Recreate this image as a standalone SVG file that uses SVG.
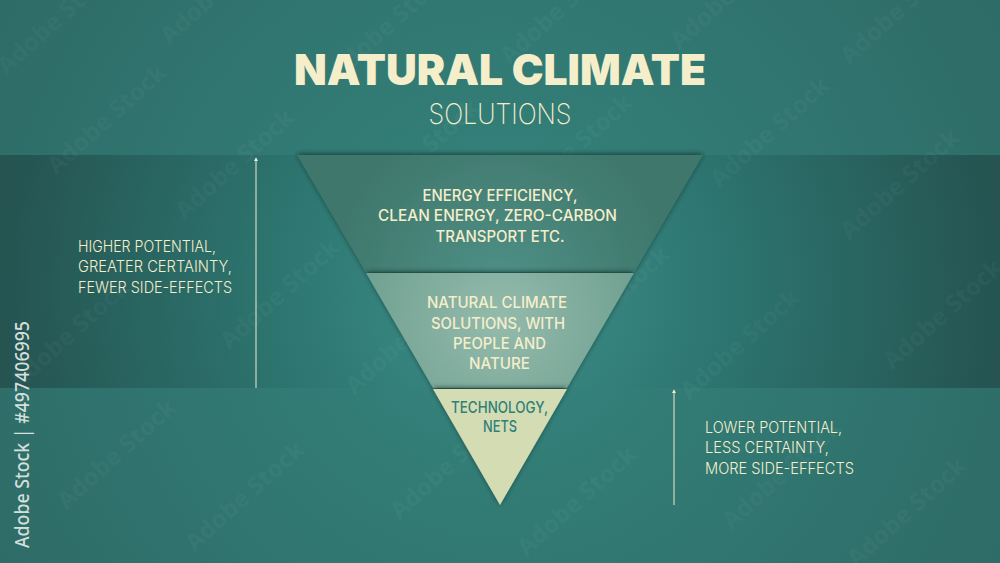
<svg xmlns="http://www.w3.org/2000/svg" width="1000" height="563" viewBox="0 0 1000 563">
<style>
text{font-family:"Inter","Liberation Sans",sans-serif;fill:#f5eecb;text-anchor:middle}
.b{font-size:15.5px;font-weight:500}
.s{font-size:15.5px;font-weight:300;text-anchor:start}
.w{font-family:"Open Sans","Liberation Sans",sans-serif;font-size:24px;font-weight:700;fill:#fff;fill-opacity:.055}
.a{stroke:#f0e9c8;stroke-width:1;fill:none;marker-end:url(#h)}
</style>
<defs>
<radialGradient id="bg" gradientUnits="userSpaceOnUse" cx="500" cy="290" r="560">
<stop offset="0" stop-color="#3a8c84"/><stop offset=".3" stop-color="#337d77"/><stop offset="1" stop-color="#2e6c67"/>
</radialGradient>
<radialGradient id="band" gradientUnits="userSpaceOnUse" cx="500" cy="290" r="500">
<stop offset="0" stop-color="#3f9089"/><stop offset=".45" stop-color="#2d7570"/><stop offset="1" stop-color="#255451"/>
</radialGradient>
<radialGradient id="g1" gradientUnits="userSpaceOnUse" cx="500" cy="285" r="170">
<stop offset="0" stop-color="#4f9086"/><stop offset="1" stop-color="#3f776c"/>
</radialGradient>
<radialGradient id="g2" gradientUnits="userSpaceOnUse" cx="500" cy="320" r="150">
<stop offset="0" stop-color="#94bbac"/><stop offset="1" stop-color="#6e9f8f"/>
</radialGradient>
<filter id="sh" x="-10%" y="-10%" width="120%" height="120%"><feDropShadow dx="0" dy="-1" stdDeviation="2.500" flood-color="#0e2a28" flood-opacity=".8"/></filter>
<marker id="h" markerWidth="5" markerHeight="5" refX="3" refY="2.500" orient="auto"><path d="M0 .5L3.500 2.500L0 4.500Z" fill="#f0e9c8"/></marker>
</defs>
<rect id="background" width="1000" height="563" fill="url(#bg)"/>
<rect id="upper-band" y="155" width="1000" height="233" fill="url(#band)"/>
<g id="watermarks">
<text class="w" textLength="150" transform="translate(62,25) rotate(-42)">Adobe Stock</text>
<text class="w" textLength="150" transform="translate(225,-5) rotate(-42)">Adobe Stock</text>
<text class="w" textLength="150" transform="translate(395,30) rotate(-42)">Adobe Stock</text>
<text class="w" textLength="150" transform="translate(565,15) rotate(-42)">Adobe Stock</text>
<text class="w" textLength="150" transform="translate(735,0) rotate(-42)">Adobe Stock</text>
<text class="w" textLength="150" transform="translate(905,15) rotate(-42)">Adobe Stock</text>
<text class="w" textLength="150" transform="translate(112,125) rotate(-42)">Adobe Stock</text>
<text class="w" textLength="150" transform="translate(240,170) rotate(-42)">Adobe Stock</text>
<text class="w" textLength="150" transform="translate(425,160) rotate(-42)">Adobe Stock</text>
<text class="w" textLength="150" transform="translate(578,155) rotate(-42)">Adobe Stock</text>
<text class="w" textLength="150" transform="translate(775,138) rotate(-42)">Adobe Stock</text>
<text class="w" textLength="150" transform="translate(905,190) rotate(-42)">Adobe Stock</text>
<text class="w" textLength="150" transform="translate(75,340) rotate(-42)">Adobe Stock</text>
<text class="w" textLength="150" transform="translate(285,300) rotate(-42)">Adobe Stock</text>
<text class="w" textLength="150" transform="translate(410,345) rotate(-42)">Adobe Stock</text>
<text class="w" textLength="150" transform="translate(615,307) rotate(-42)">Adobe Stock</text>
<text class="w" textLength="150" transform="translate(745,350) rotate(-42)">Adobe Stock</text>
<text class="w" textLength="150" transform="translate(948,320) rotate(-42)">Adobe Stock</text>
<text class="w" textLength="150" transform="translate(122,460) rotate(-42)">Adobe Stock</text>
<text class="w" textLength="150" transform="translate(250,502) rotate(-42)">Adobe Stock</text>
<text class="w" textLength="150" transform="translate(455,470) rotate(-42)">Adobe Stock</text>
<text class="w" textLength="150" transform="translate(582,507) rotate(-42)">Adobe Stock</text>
<text class="w" textLength="150" transform="translate(787,480) rotate(-42)">Adobe Stock</text>
<text class="w" textLength="150" transform="translate(912,518) rotate(-42)">Adobe Stock</text>
</g>
<g id="title">
<text x="500" y="85" font-size="43" font-weight="900" textLength="412" lengthAdjust="spacingAndGlyphs">NATURAL CLIMATE</text>
<text x="500" y="124" font-size="28" font-weight="200" textLength="143" lengthAdjust="spacingAndGlyphs">SOLUTIONS</text>
</g>
<g id="connectors">
<path class="a" d="M256 388V158"/>
<path class="a" d="M674 505V390"/>
</g>
<g id="tier-top">
<path d="M297 155H703L634.500 272H365.500Z" fill="url(#g1)" filter="url(#sh)"/>
<text class="b" x="500" y="201" textLength="155" lengthAdjust="spacingAndGlyphs">ENERGY EFFICIENCY,</text>
<text class="b" x="497.500" y="221" textLength="239" lengthAdjust="spacingAndGlyphs">CLEAN ENERGY, ZERO-CARBON</text>
<text class="b" x="500" y="242" textLength="129" lengthAdjust="spacingAndGlyphs">TRANSPORT ETC.</text>
</g>
<g id="tier-middle">
<path d="M366 273H634L567 388H433Z" fill="url(#g2)" filter="url(#sh)"/>
<text class="b" x="497" y="308" textLength="140" lengthAdjust="spacingAndGlyphs">NATURAL CLIMATE</text>
<text class="b" x="498" y="329" textLength="134" lengthAdjust="spacingAndGlyphs">SOLUTIONS, WITH</text>
<text class="b" x="499.500" y="349" textLength="93" lengthAdjust="spacingAndGlyphs">PEOPLE AND</text>
<text class="b" x="499.500" y="369" textLength="61" lengthAdjust="spacingAndGlyphs">NATURE</text>
</g>
<g id="tier-bottom">
<path d="M433 389H567L500 505Z" fill="#d4dcb4" filter="url(#sh)"/>
<text class="b" x="499.500" y="413" textLength="97" lengthAdjust="spacingAndGlyphs" style="fill:#2f7f78">TECHNOLOGY,</text>
<text class="b" x="500" y="432" textLength="34" lengthAdjust="spacingAndGlyphs" style="fill:#2f7f78">NETS</text>
</g>
<g id="label-higher">
<text class="s" x="78" y="252" textLength="138" lengthAdjust="spacingAndGlyphs">HIGHER POTENTIAL,</text>
<text class="s" x="78" y="272" textLength="154" lengthAdjust="spacingAndGlyphs">GREATER CERTAINTY,</text>
<text class="s" x="78" y="293" textLength="154" lengthAdjust="spacingAndGlyphs">FEWER SIDE-EFFECTS</text>
</g>
<g id="label-lower">
<text class="s" x="705" y="433" textLength="137" lengthAdjust="spacingAndGlyphs">LOWER POTENTIAL,</text>
<text class="s" x="705" y="453" textLength="124" lengthAdjust="spacingAndGlyphs">LESS CERTAINTY,</text>
<text class="s" x="705" y="474" textLength="149" lengthAdjust="spacingAndGlyphs">MORE SIDE-EFFECTS</text>
</g>
<text transform="translate(29,548) rotate(-90)" font-size="19" font-weight="500" textLength="227" lengthAdjust="spacingAndGlyphs" style="font-family:'Noto Sans','Liberation Sans',sans-serif;fill:#d3dfdc;text-anchor:start">Adobe Stock | #497406995</text>
</svg>
